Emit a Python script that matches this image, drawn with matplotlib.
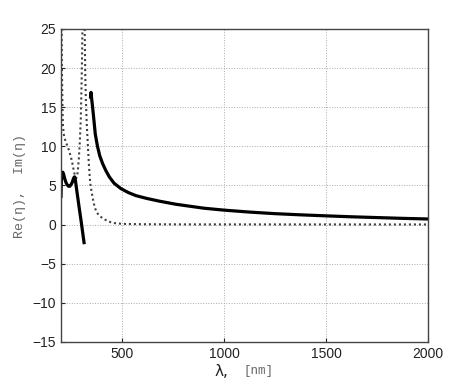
import numpy as np
import matplotlib
matplotlib.use("Agg")
import matplotlib.pyplot as plt

# --- Data (wavelength in nm) ---
# Re(eta): solid line, two branches
re_lam_1 = [200, 201, 202, 204, 206, 209, 212, 218, 224, 230, 237, 243, 249, 255,
            260, 264, 267, 270, 275, 282, 290, 300, 313]
re_val_1 = [3.6, 4.8, 5.6, 6.3, 6.6, 6.7, 6.5, 5.9, 5.4, 5.1, 4.9, 4.9, 5.1, 5.4,
            5.8, 6.05, 6.1, 5.8, 4.8, 3.5, 2.0, 0.2, -2.3]
re_lam_2 = [345, 347, 349, 355, 362, 368, 374, 379, 390, 404, 420, 437, 460, 494,
            530, 568, 620, 682, 764, 832, 900, 1000, 1126, 1250, 1375, 1500, 1625,
            1750, 1875, 2000]
re_val_2 = [16.3, 16.9, 16.4, 15.0, 13.2, 11.6, 10.7, 10.0, 8.8, 7.8, 6.9, 6.1, 5.3,
            4.6, 4.1, 3.7, 3.35, 3.0, 2.6, 2.35, 2.1, 1.85, 1.6, 1.4, 1.25, 1.12,
            1.0, 0.9, 0.8, 0.72]

# Im(eta): dotted line, two branches (resonance near 310 nm)
im_lam_1 = [200, 201.5, 203, 204.5, 206, 208, 210, 214, 218, 226, 234, 241, 249,
            256, 262, 266, 270, 273, 276, 280, 283, 288, 293, 297, 300, 303, 305, 308]
im_val_1 = [40, 32, 25, 20, 17, 14, 12.5, 11.5, 11.0, 10.4, 9.9, 9.3, 8.6,
            7.8, 7.0, 6.5, 6.1, 5.95, 6.0, 6.4, 7.0, 8.6, 11.0, 13.5, 17.0, 21.0,
            25.0, 40.0]
im_lam_2 = [312, 314, 316, 319, 322, 326, 329, 333, 336, 341, 345, 350, 357, 362,
            367, 373, 380, 390, 400, 415, 430, 445, 460, 490, 520, 600, 800, 2000]
im_val_2 = [40, 30, 25, 19, 16, 13, 11.5, 9.5, 8.0, 6.0, 5.0, 4.2, 3.2, 2.6,
            2.1, 1.7, 1.4, 1.1, 0.9, 0.65, 0.45, 0.3, 0.2, 0.12, 0.08, 0.05, 0.03,
            0.02]

x_ticks = [500, 1000, 1500, 2000]
y_ticks = [-15, -10, -5, 0, 5, 10, 15, 20, 25]

plt.rcParams['font.family'] = ['Liberation Sans', 'DejaVu Sans']

fig = plt.figure(figsize=(4.74, 3.85), dpi=100)
ax = fig.add_axes([0.1287, 0.1117, 0.7743, 0.813])

ax.plot(im_lam_1, im_val_1, color='#404040', linestyle=(0, (1, 1.4)), linewidth=1.5)
ax.plot(im_lam_2, im_val_2, color='#404040', linestyle=(0, (1, 1.4)), linewidth=1.5)
ax.plot(re_lam_1, re_val_1, color='black', linewidth=2.3)
ax.plot(re_lam_2, re_val_2, color='black', linewidth=2.3)

ax.set_xlim(200, 2000)
ax.set_ylim(-15, 25)
ax.set_xticks(x_ticks)
ax.set_yticks(y_ticks)
ax.set_yticklabels([str(v).replace('-', '\u2212') for v in y_ticks])
ax.tick_params(direction='in', length=3, labelsize=10, colors='#222222', width=0.8)
ax.grid(True, linestyle=':', color='#aaaaaa', linewidth=0.7)
for s in ax.spines.values():
    s.set_color('#444444')
    s.set_linewidth(1.0)

# axis labels (mixed fonts as in the reference)
fig.text(0.467, 0.036, "\u03bb,", fontsize=11, color='#222222',
         family=['DejaVu Sans'], ha='center', va='center')
fig.text(0.545, 0.036, "[nm]", fontsize=9, color='#666666',
         family=['Liberation Mono'], ha='center', va='center')
fig.text(0.042, 0.517, "Re(\u03b7),  Im(\u03b7)", fontsize=9.5, color='#666666',
         family=['Liberation Mono', 'DejaVu Sans'], rotation=90,
         ha='center', va='center')

fig.savefig("out.png", dpi=100)
